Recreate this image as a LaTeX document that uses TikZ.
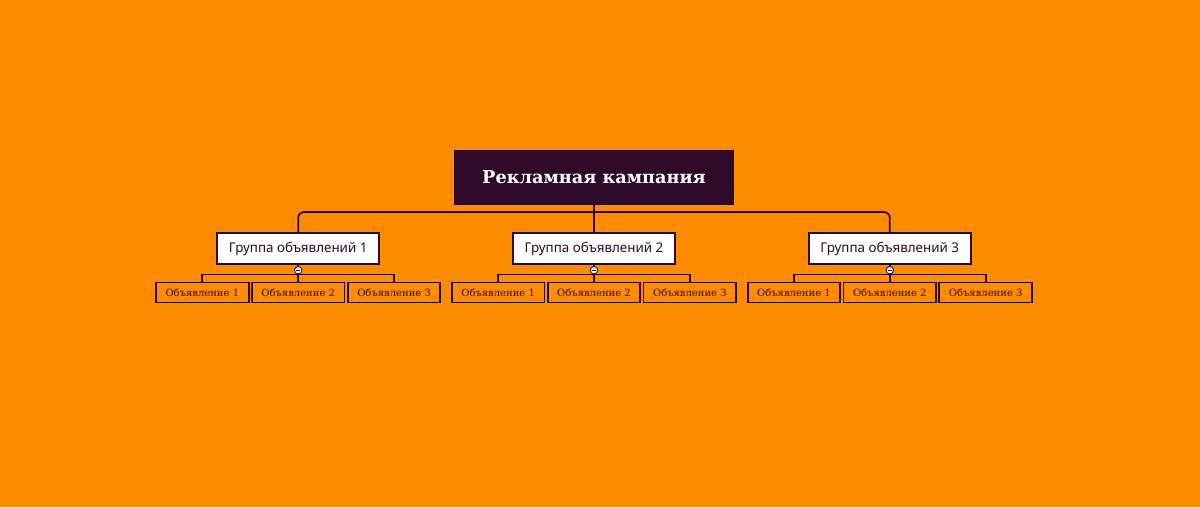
\documentclass[tikz,border=0pt]{standalone}
\usepackage{fontspec}
\setmainfont{DejaVu Serif}
\newfontfamily\groupfont{Noto Sans}
\usetikzlibrary{positioning}
\definecolor{bgorange}{HTML}{FF8C00}
\definecolor{plum}{HTML}{2E0A28}
\tikzstyle{titlebox} = [fill=plum, draw=none, text=white, font=\bfseries\fontsize{17.7}{20}\selectfont,
    rectangle, minimum width=280pt, minimum height=55pt, inner sep=0pt]
\tikzstyle{groupbox} = [fill=white, draw=plum, line width=1.8pt, text=plum, font=\groupfont\fontsize{13.4}{15}\selectfont,
    rectangle, minimum width=162pt, minimum height=31pt, inner sep=0pt]
\tikzstyle{adbox} = [fill=bgorange, draw=plum, line width=1.8pt, text=plum, font=\fontsize{10}{12}\selectfont,
    rectangle, minimum height=20pt, inner xsep=9.5pt, inner ysep=0pt]
\tikzstyle{link} = [draw=plum, line width=1.8pt]
\tikzstyle{toggle} = [circle, fill=white, draw=plum, line width=0.9pt, minimum size=7.5pt, inner sep=0pt,
    path picture={\draw[plum, line width=0.9pt] ([xshift=-2pt]path picture bounding box.center) -- ([xshift=2pt]path picture bounding box.center);}]

\begin{document}
\begin{tikzpicture}[x=1pt, y=-1pt]
    \fill[bgorange] (0,0) rectangle (1200,507);
    \useasboundingbox (0,0) rectangle (1200,507);

    \node [titlebox] (campaign) at (594,177.5) {Рекламная кампания};

    \node [groupbox, below=27pt of campaign] (group2) {Группа объявлений 2};
    \node [groupbox, left=132pt of group2] (group1) {Группа объявлений 1};
    \node [groupbox, right=132pt of group2] (group3) {Группа объявлений 3};

    \coordinate (hub) at (594,212);
    \draw [link] (campaign.south) -- (group2.north);
    \draw [link, rounded corners=6pt] (group1.north) |- (hub) -| (group3.north);

    \foreach \g in {1,2,3} {
        \node [adbox, below=16.5pt of group\g] (ad\g2) {Объявление 2};
        \node [adbox, left=1.5pt of ad\g2] (ad\g1) {Объявление 1};
        \node [adbox, right=1.5pt of ad\g2] (ad\g3) {Объявление 3};
        \draw [link] (group\g.south) -- (ad\g2.north);
        \draw [link] (ad\g1.north) -- ++(0,-7) -| (ad\g3.north);
        \node [toggle, below=1pt of group\g] (toggle\g) {};
    }
\end{tikzpicture}
\end{document}
